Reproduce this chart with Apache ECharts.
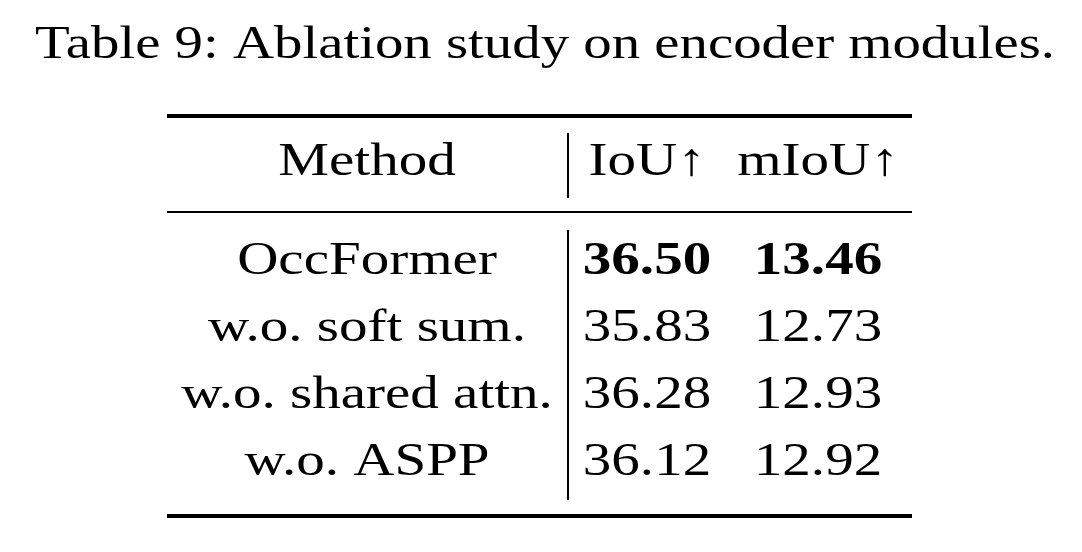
<!DOCTYPE html>
<html><head><meta charset="utf-8">
<script src="https://cdn.jsdelivr.net/npm/echarts@6/dist/echarts.min.js"></script>
<style>html,body{margin:0;background:#fff}#c{width:1082px;height:552px}</style>
</head><body><div id="c"></div>
<script>
const title = 'Table 9: Ablation study on encoder modules.';
const headers = ['Method', 'IoU↑', 'mIoU↑'];
const methods = ['OccFormer', 'w.o. soft sum.', 'w.o. shared attn.', 'w.o. ASPP'];
const iou = ['36.50', '35.83', '36.28', '36.12'];
const miou = ['13.46', '12.73', '12.93', '12.92'];
const boldRow = 0;

const F = '"Liberation Serif","DejaVu Serif",serif';
const colX = [367, 647, 818];
const rowY = [262, 329, 396, 463];
const g = [];
function txt(x, y, s, size, bold, sx) {
  g.push({type:'text', x, y, scaleX: sx||1.24, style:{text:s, x:0, y:0, align:'center', verticalAlign:'middle',
    font:(bold?'bold ':'')+size+'px '+F, fill:'#000'}});
}
function line(x1,y1,x2,y2,w){g.push({type:'line',shape:{x1,y1,x2,y2},style:{stroke:'#000',lineWidth:w}});}
txt(545, 46, title, 46, false, 1.235);
line(167,116,912,116,4);
line(167,212,912,212,2);
line(167,516,912,516,4);
line(568,133,568,198,2);
line(568,230,568,500,2);
headers.forEach((h,i)=>txt(colX[i], 163, h, 46, false));
methods.forEach((m,i)=>{
  const b = i===boldRow;
  txt(colX[0], rowY[i], m, 46, false);
  txt(colX[1], rowY[i], iou[i], 46, b);
  txt(colX[2], rowY[i], miou[i], 46, b);
});
const chart = echarts.init(document.getElementById('c'));
chart.setOption({graphic:{elements:g}});
</script></body></html>
